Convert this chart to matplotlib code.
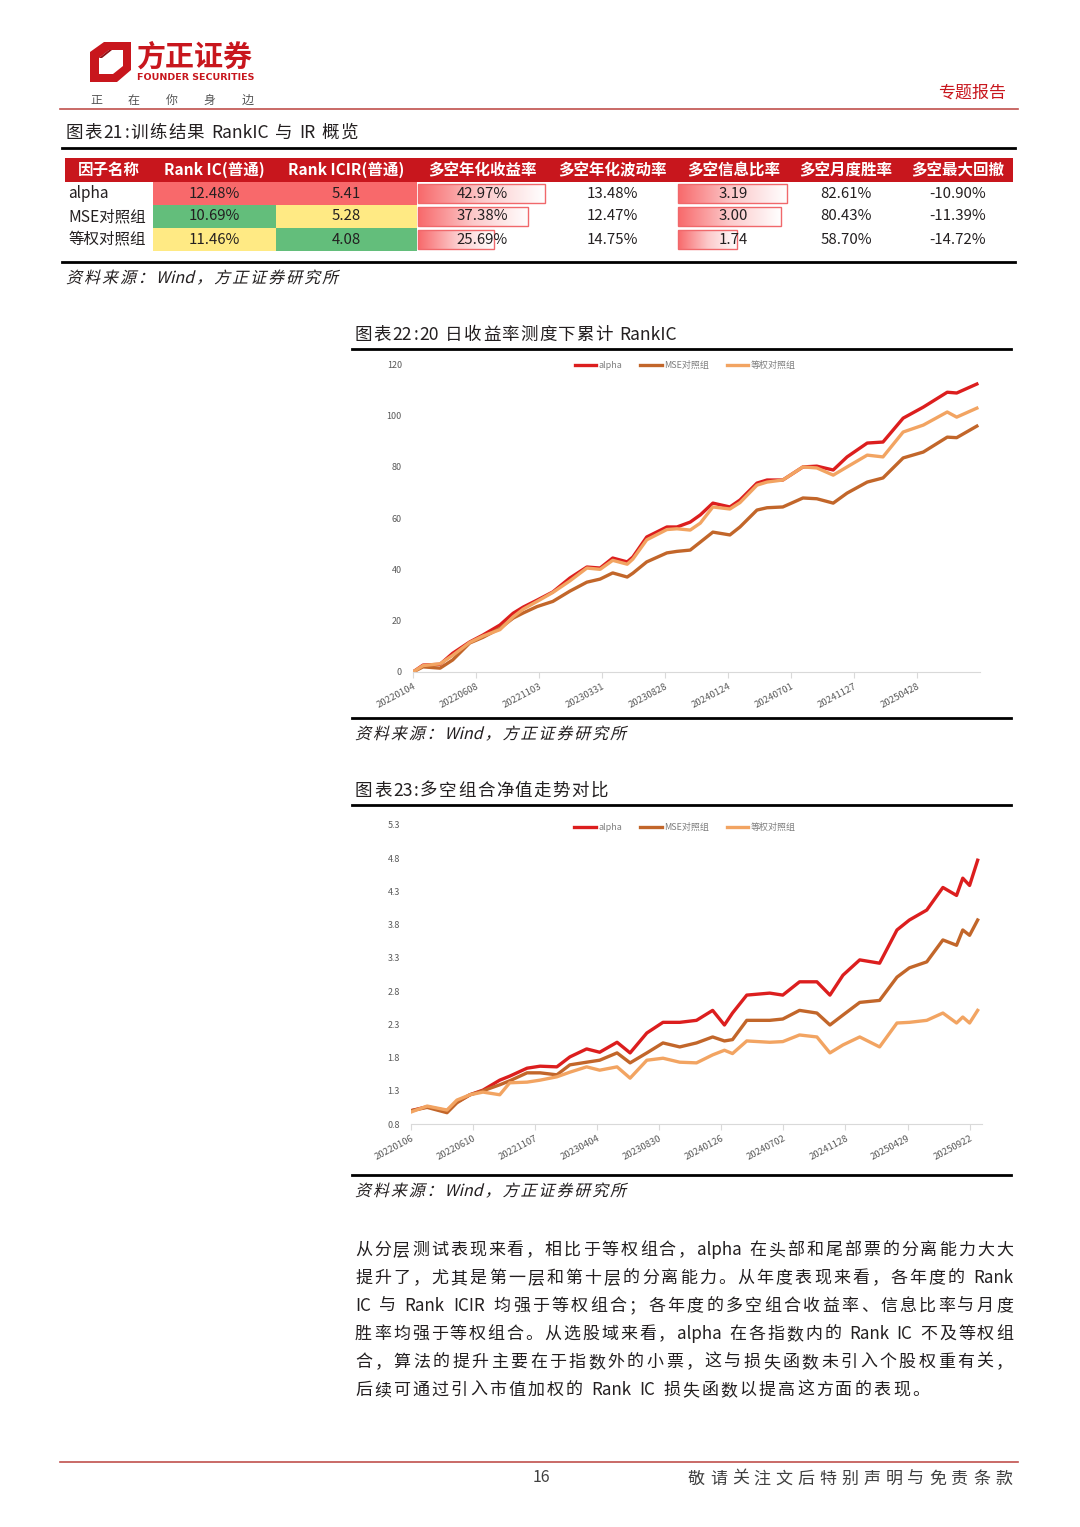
import re
import numpy as np
import matplotlib
matplotlib.use('Agg')
import matplotlib.pyplot as plt
from matplotlib.colors import LinearSegmentedColormap, TwoSlopeNorm
from matplotlib.font_manager import FontProperties
from matplotlib.patches import Rectangle, Polygon, PathPatch
from matplotlib.textpath import TextPath
from matplotlib.transforms import Affine2D

FONT = ['Noto Sans CJK SC', 'DejaVu Sans']
plt.rcParams['font.family'] = FONT

# ---------------- table 21 data ----------------
tbl_header = ['因子名称', 'Rank IC(普通)', 'Rank ICIR(普通)', '多空年化收益率',
              '多空年化波动率', '多空信息比率', '多空月度胜率', '多空最大回撤']
factors = ['alpha', 'MSE对照组', '等权对照组']
rank_ic = [12.48, 10.69, 11.46]
rank_icir = [5.41, 5.28, 4.08]
ls_ret = [42.97, 37.38, 25.69]
ls_vol = [13.48, 12.47, 14.75]
ls_ir = [3.19, 3.00, 1.74]
ls_win = [82.61, 80.43, 58.70]
ls_mdd = [-10.90, -11.39, -14.72]

# ---------------- chart 22: cumulative RankIC ----------------
ic_ticks = [0, 100, 200, 300, 400, 500, 600, 700, 800]
ic_tick_labels = ['20220104', '20220608', '20221103', '20230331', '20230828',
                  '20240124', '20240701', '20241127', '20250428']
ic_x = [0, 16, 43, 63, 90, 111, 138, 159, 175, 197, 222, 249, 276, 297, 317, 340,
        349, 371, 403, 419, 440, 456, 476, 503, 519, 546, 562, 587, 619, 641, 667,
        689, 721, 746, 778, 810, 848, 863, 895]
ic_alpha = [0, 2.7, 3.0, 7.3, 11.7, 14.4, 18.3, 22.9, 25.3, 28.0, 31.2, 36.6, 40.9,
            40.5, 44.4, 42.9, 44.8, 52.6, 56.5, 56.5, 58.4, 61.2, 65.8, 64.3, 67.0,
            73.6, 74.8, 74.8, 79.9, 80.2, 78.7, 83.8, 89.2, 89.6, 98.9, 103.2, 109.0,
            108.7, 112.2]
ic_mse = [0, 2.0, 1.5, 4.7, 11.3, 13.5, 17.0, 21.0, 23.0, 25.5, 27.5, 31.5, 35.0,
          36.2, 38.6, 37.0, 38.5, 42.9, 46.4, 47.0, 47.5, 50.6, 54.5, 53.4, 56.5,
          63.1, 64.0, 64.3, 67.8, 67.5, 65.8, 69.7, 74.0, 75.6, 83.4, 85.7, 91.5,
          91.3, 95.8]
ic_eq = [0, 2.5, 3.2, 6.5, 11.5, 14.0, 16.5, 21.5, 24.5, 27.5, 31.0, 35.5, 40.5,
         40.0, 43.5, 42.0, 44.0, 51.5, 55.5, 55.8, 55.3, 58.0, 64.3, 63.5, 66.0,
         72.8, 74.0, 74.8, 79.9, 79.5, 76.7, 79.9, 84.5, 83.8, 93.5, 96.2, 101.3,
         99.3, 102.8]

# ---------------- chart 23: long-short net value ----------------
nv_ticks = [0, 100, 200, 300, 400, 500, 600, 700, 800, 900]
nv_tick_labels = ['20220106', '20220610', '20221107', '20230404', '20230830',
                  '20240126', '20240702', '20241128', '20250429', '20250922']
nv_x = [0, 26, 58, 74, 95, 116, 143, 159, 187, 208, 235, 256, 283, 304, 332, 353,
        380, 406, 433, 460, 486, 505, 518, 541, 578, 599, 626, 654, 675, 696, 723,
        755, 783, 803, 831, 857, 879, 889, 900, 913]
nv_alpha = [1.00, 1.06, 1.00, 1.13, 1.24, 1.31, 1.46, 1.52, 1.64, 1.67, 1.66, 1.81,
            1.93, 1.88, 2.03, 1.87, 2.17, 2.33, 2.33, 2.36, 2.51, 2.29, 2.47, 2.74,
            2.77, 2.74, 2.94, 2.94, 2.74, 3.04, 3.27, 3.22, 3.72, 3.87, 4.02, 4.36,
            4.24, 4.50, 4.39, 4.77]
nv_mse = [1.00, 1.05, 0.97, 1.12, 1.24, 1.30, 1.39, 1.45, 1.57, 1.57, 1.54, 1.69,
          1.73, 1.76, 1.87, 1.72, 1.87, 2.02, 1.96, 2.02, 2.11, 2.05, 2.07, 2.36,
          2.36, 2.38, 2.51, 2.47, 2.29, 2.44, 2.63, 2.66, 3.01, 3.15, 3.24, 3.57,
          3.49, 3.72, 3.64, 3.87]
nv_eq = [0.98, 1.07, 1.01, 1.16, 1.24, 1.28, 1.24, 1.42, 1.43, 1.46, 1.51, 1.58,
         1.66, 1.61, 1.66, 1.49, 1.76, 1.79, 1.73, 1.72, 1.84, 1.91, 1.86, 2.05,
         2.03, 2.04, 2.14, 2.11, 1.87, 1.99, 2.11, 1.96, 2.32, 2.33, 2.36, 2.47,
         2.32, 2.41, 2.32, 2.51]

series_names = ['alpha', 'MSE对照组', '等权对照组']
series_colors = ['#DC1E1E', '#C2662A', '#F2A462']

body_lines = [
    '从分层测试表现来看，相比于等权组合，alpha 在头部和尾部票的分离能力大大',
    '提升了，尤其是第一层和第十层的分离能力。从年度表现来看，各年度的 Rank',
    'IC 与 Rank ICIR 均强于等权组合；各年度的多空组合收益率、信息比率与月度',
    '胜率均强于等权组合。从选股域来看，alpha 在各指数内的 Rank IC 不及等权组',
    '合，算法的提升主要在于指数外的小票，这与损失函数未引入个股权重有关，',
    '后续可通过引入市值加权的 Rank IC 损失函数以提高这方面的表现。',
]
source = '资料来源：Wind，方正证券研究所'

RED = '#C8161D'
TXT = '#231F20'
W, H = 1080, 1527
fig = plt.figure(figsize=(W / 100, H / 100), dpi=100)
page = fig.add_axes([0, 0, 1, 1])
page.axis('off')
renderer = fig.canvas.get_renderer()


def rect(l, t, r, b):
    return [l / W, 1 - b / H, (r - l) / W, (b - t) / H]


def pt(px):
    return px * 0.72


def spread(s, x0, x1, base, size, color=TXT, gap=None, weight='normal', skew=0):
    toks = re.findall(r'[A-Za-z0-9.%]+|.', s)
    fp = FontProperties(family=FONT, size=size, weight=weight)
    ws = [renderer.get_text_width_height_descent(t, fp, ismath=False)[0] for t in toks]
    if gap is None:
        gap = (x1 - x0 - sum(ws)) / (len(toks) - 1)
    x = x0
    for t, w in zip(toks, ws):
        if skew and t.strip():
            tp = TextPath((0, 0), t, size=size / 0.72, prop=fp)
            tr = Affine2D().skew_deg(skew, 0).scale(1, -1).translate(x, base) + page.transData
            page.add_patch(PathPatch(tp, transform=tr, color=color, lw=0))
        elif t.strip():
            page.text(x, base, t, fontsize=size, color=color, va='baseline', ha='left',
                      weight=weight)
        x += w + gap
    return gap


# ---------------- header ----------------
page.add_patch(Polygon([(90, 52), (104, 42), (131, 42), (131, 70), (117, 82), (90, 82)],
                       color=RED, lw=0))
page.add_patch(Polygon([(99, 58), (109, 50), (123, 50), (123, 66), (113, 74), (99, 74)],
                       color='white', lw=0))
page.add_patch(Polygon([(99, 58), (109, 50), (112, 50), (102, 58)], color='#8E0F14', lw=0))
page.text(195, 57, '方正证券', fontsize=pt(29), color=RED, weight='bold',
          ha='center', va='center')
page.text(196, 77, 'FOUNDER SECURITIES', fontsize=pt(9.5), color=RED, weight='bold',
          ha='center', va='center', family='DejaVu Sans')
spread('正在你身边', 90, 254, 104, pt(12), color='#555555')
page.text(1006, 93, '专题报告', fontsize=pt(17), color=RED, ha='right', va='center')
page.plot([60, 1018], [109, 109], color='#C0504D', lw=1.2)

# ---------------- table 21 ----------------
spread('图表21:训练结果 RankIC 与 IR 概览', 66, 358, 138, pt(17.5))
page.plot([62, 1015], [148, 148], color='black', lw=2)
page.plot([62, 1015], [262, 262], color='black', lw=2)
edges = [65, 153, 276, 417, 548, 677, 790, 902, 1013]
row_top = [182, 205, 228]
row_h = 23
page.add_patch(Rectangle((65, 158), 1013 - 65, 24, color=RED, lw=0))
for i, h in enumerate(tbl_header):
    page.text((edges[i] + edges[i + 1]) / 2, 170, h, fontsize=pt(15.5), color='white',
              weight='bold', ha='center', va='center')

scale3 = LinearSegmentedColormap.from_list('s3', ['#63BE7B', '#FFEB84', '#F8696B'])
bar_cmap = LinearSegmentedColormap.from_list('bar', ['#F8696B', '#FCC9CA', '#FFFFFF'])
grad = np.linspace(0, 1, 256)[None, :]

cols = [rank_ic, rank_icir, ls_ret, ls_vol, ls_ir, ls_win, ls_mdd]
fmts = ['{:.2f}%', '{:.2f}', '{:.2f}%', '{:.2f}%', '{:.2f}', '{:.2f}%', '{:.2f}%']
for c, vals in enumerate(cols):
    l, r = edges[c + 1], edges[c + 2]
    if c in (0, 1):
        norm = TwoSlopeNorm(vmin=min(vals), vcenter=float(np.median(vals)), vmax=max(vals))
    for j, v in enumerate(vals):
        t = row_top[j]
        if c in (0, 1):
            page.add_patch(Rectangle((l, t), r - l, row_h, color=scale3(norm(v)), lw=0))
        if c in (2, 4):
            bw = (r - l - 4) * v / max(vals)
            page.imshow(grad, cmap=bar_cmap, extent=(l + 1, l + 1 + bw, t + row_h - 2, t + 2),
                        aspect='auto', zorder=1)
            page.add_patch(Rectangle((l + 1, t + 2), bw, row_h - 4, fill=False,
                                     ec='#F0686B', lw=1, zorder=2))
        page.text((l + r) / 2, t + row_h / 2, fmts[c].format(v), fontsize=pt(15),
                  color=TXT, ha='center', va='center', zorder=3)
for j, f in enumerate(factors):
    page.text(68, row_top[j] + row_h / 2, f, fontsize=pt(15.5), color=TXT, va='center')
spread(source, 66, 338, 283, pt(16), skew=14)


# ---------------- charts ----------------
def style(ax, ticks, labels):
    for s in ('top', 'right', 'left'):
        ax.spines[s].set_visible(False)
    ax.spines['bottom'].set_color('#D9D9D9')
    ax.patch.set_alpha(0)
    ax.set_xticks(ticks)
    ax.set_xticklabels(labels, rotation=28, ha='right', rotation_mode='anchor')
    ax.tick_params(axis='x', length=4, color='#D9D9D9', labelsize=pt(9.5),
                   labelcolor='#595959', pad=3)
    ax.tick_params(axis='y', length=0, labelsize=pt(9), labelcolor='#595959', pad=8)
    leg = ax.legend(loc='upper center', bbox_to_anchor=(0.48, 1.035), ncol=3,
                    frameon=False, fontsize=pt(9), handlelength=2.4, handletextpad=0.25,
                    columnspacing=2.0)
    for t in leg.get_texts():
        t.set_color('#7F7F7F')


# chart 22
spread('图表22:20 日收益率测度下累计 RankIC', 355, 677, 340, pt(17.5))
page.plot([352, 1011], [349, 349], color='black', lw=2)
page.plot([352, 1011], [718, 718], color='black', lw=2)
spread(source, 355, 626, 739, pt(16), skew=14)
ax1 = fig.add_axes(rect(413, 364, 980, 672))
for ys, name, col in zip([ic_alpha, ic_mse, ic_eq], series_names, series_colors):
    ax1.plot(ic_x, ys, color=col, lw=2.4, label=name, solid_joinstyle='round')
ax1.set_xlim(0, 900)
ax1.set_ylim(0, 120)
ax1.set_yticks(range(0, 121, 20))
style(ax1, ic_ticks, ic_tick_labels)

# chart 23
spread('图表23:多空组合净值走势对比', 355, 608, 796, pt(17.5))
page.plot([352, 1011], [805, 805], color='black', lw=2)
page.plot([352, 1011], [1175, 1175], color='black', lw=2)
spread(source, 355, 626, 1196, pt(16), skew=14)
ax2 = fig.add_axes(rect(411, 825, 982, 1124))
for ys, name, col in zip([nv_alpha, nv_mse, nv_eq], series_names, series_colors):
    ax2.plot(nv_x, ys, color=col, lw=2.4, label=name, solid_joinstyle='round')
ax2.set_xlim(0, 920)
ax2.set_ylim(0.8, 5.3)
ax2.set_yticks(np.arange(0.8, 5.31, 0.5))
ax2.yaxis.set_major_formatter(matplotlib.ticker.FormatStrFormatter('%.1f'))
style(ax2, nv_ticks, nv_tick_labels)

# ---------------- body text ----------------
gaps = []
for k, line in enumerate(body_lines[:-1]):
    gaps.append(spread(line, 355, 1013, 1255 + 28 * k, pt(17)))
spread(body_lines[-1], 355, 1013, 1255 + 28 * (len(body_lines) - 1), pt(17),
       gap=float(np.mean(gaps)))

# ---------------- footer ----------------
page.plot([60, 1018], [1462, 1462], color='#C0504D', lw=1.2)
page.text(541, 1477, '16', fontsize=pt(16), color='#404040', ha='center', va='center')
spread('敬请关注文后特别声明与免责条款', 688, 1012, 1484, pt(17), color='#404040')

page.set_xlim(0, W)
page.set_ylim(H, 0)
fig.savefig('out.png', dpi=100)
